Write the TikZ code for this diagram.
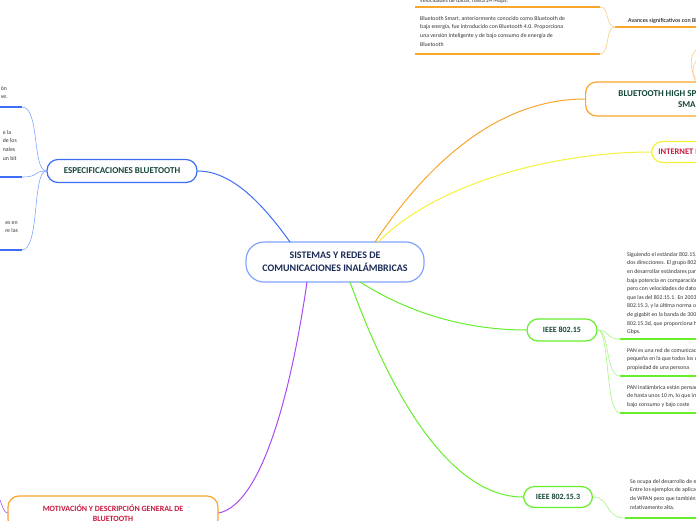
\documentclass[tikz,border=0pt]{standalone}
\usepackage{fontspec}
\setmainfont{Carlito}
\definecolor{cblue}{HTML}{3D6CF5}
\definecolor{cblueL}{HTML}{7FA4FF}
\definecolor{corange}{HTML}{F9A52A}
\definecolor{coraL}{HTML}{FBCB80}
\definecolor{cyel}{HTML}{F3F23A}
\definecolor{cgreen}{HTML}{66EE2A}
\definecolor{cgreenL}{HTML}{A6F37F}
\definecolor{cpurp}{HTML}{A94BF5}
\definecolor{tgreen}{HTML}{14463A}
\definecolor{tred}{HTML}{C8193F}
\definecolor{tnavy}{HTML}{1B2B55}
\begin{document}
\begin{tikzpicture}[x=1pt,y=-1pt,
  topic/.style={draw,line width=1.2pt,rounded corners=11pt,fill=white,font=\bfseries\fontsize{8}{10}\selectfont,align=center,inner sep=0pt},
  body/.style={font=\fontsize{5.8}{8.6}\selectfont,align=left,anchor=north west,inner sep=0pt,text=black!80}]
\useasboundingbox (0,0) rectangle (696,520);
% central
\node[topic,draw=cblueL,text=tnavy,minimum width=178,minimum height=40,rounded corners=18pt,font=\bfseries\fontsize{10}{13}\selectfont] (c) at (335,262) {SISTEMAS Y REDES DE\\COMUNICACIONES INALÁMBRICAS};
% blue
\node[topic,draw=cblue,text=tgreen,minimum width=150,minimum height=23,font=\bfseries\fontsize{9}{10}\selectfont] (esp) at (122,171) {ESPECIFICACIONES BLUETOOTH};
\draw[cblue,line width=1pt] (290,242) .. controls (260,200) and (230,171) .. (esp.east);
\foreach \y/\n in {107/b1,177/b2,250/b3}{\coordinate (\n) at (22,\y);
  \draw[cblue,line width=1.5pt] (\n) -- ++(-22,0);
  \draw[cblueL,line width=.6pt] (esp.west) .. controls (32,171) and (40,\y) .. (\n);}
\node[body,anchor=north east] at (8,86) {ón\\ve.};
\node[body,anchor=north east] at (17,130) {e la\\de los\\nales\\un bit};
\node[body,anchor=north east] at (18,221) {es en\\re las};
% orange
\node[topic,draw=corange,text=tgreen,minimum width=212,minimum height=34,anchor=west,font=\bfseries\fontsize{9}{11}\selectfont] (bhs) at (585,99) {BLUETOOTH HIGH SPEED Y BLUETOOTH\\SMART};
\draw[corange,line width=1pt] (375,242) .. controls (430,160) and (500,99) .. (bhs.west);
\coordinate (av) at (615,27);
\draw[corange,line width=1.5pt] (av) -- (700,27);
\node[font=\fontsize{6}{8}\selectfont,anchor=south west,inner sep=0pt] (avt) at (628,24) {Avances significativos con Bluetooth};
\draw[coraL,line width=.6pt] (700,85) .. controls (688,70) and (690,55) .. (696,50);
\draw[coraL,line width=.6pt] (698,85) .. controls (690,75) and (692,62) .. (700,58);
\coordinate (o1) at (600,7); \coordinate (o2) at (600,54);
\draw[corange,line width=1.5pt] (o1) -- (415,7);
\draw[corange,line width=1.5pt] (o2) -- (415,54);
\draw[coraL,line width=.6pt] (av) .. controls (605,27) and (610,7) .. (o1);
\draw[coraL,line width=.6pt] (av) .. controls (605,27) and (610,54) .. (o2);
\node[body] at (420,-2) {velocidades de datos, hasta 24 Mbps.};
\node[body] at (420,16) {Bluetooth Smart, anteriormente conocido como Bluetooth de\\baja energía, fue introducido con Bluetooth 4.0. Proporciona\\una versión inteligente y de bajo consumo de energía de\\Bluetooth};
% yellow
\node[topic,draw=cyel,text=tred,minimum width=100,minimum height=21,anchor=west,font=\bfseries\fontsize{8.5}{10}\selectfont] (int) at (651,152) {INTERNET DE LAS COSAS};
\draw[cyel,line width=1pt] (378,242) .. controls (440,180) and (560,152) .. (int.west);
% green
\node[topic,draw=cgreen,text=tgreen,minimum width=70,minimum height=22] (i15) at (562,330) {IEEE 802.15};
\draw[cgreen,line width=1pt] (360,282) .. controls (420,320) and (480,330) .. (i15.west);
\foreach \y/\n in {339/g1,376/g2,413/g3}{\coordinate (\n) at (620,\y);
  \draw[cgreen,line width=1.5pt] (\n) -- (700,\y);
  \draw[cgreenL,line width=.6pt] (i15.east) .. controls (610,330) and (605,\y) .. (\n);}
\node[body] at (627,252) {Siguiendo el estándar 802.15.1, el grupo de trabajo\\dos direcciones. El grupo 802.15.4 se centró\\en desarrollar estándares para dispositivos de\\baja potencia en comparación con Bluetooth,\\pero con velocidades de datos más bajas\\que las del 802.15.1. En 2003 se publicó el\\802.15.3, y la última norma ofrece velocidades\\de gigabit en la banda de 300 GHz, el\\802.15.3d, que proporciona hasta 100\\Gbps.};
\node[body] at (627,348) {PAN es una red de comunicación de área\\pequeña en la que todos los dispositivos son\\propiedad de una persona};
\node[body] at (627,385) {PAN inalámbrica están pensadas para distancias\\de hasta unos 10 m, lo que implica\\bajo consumo y bajo coste};
\node[topic,draw=cgreen,text=tgreen,minimum width=69,minimum height=21] (i153) at (558,497) {IEEE 802.15.3};
\draw[cgreen,line width=1pt] (350,282) .. controls (400,420) and (460,497) .. (i153.west);
\coordinate (g4) at (625,518);
\draw[cgreen,line width=1.5pt] (g4) -- (700,518);
\draw[cgreenL,line width=.6pt] (i153.east) .. controls (610,497) and (605,518) .. (g4);
\node[body] at (630,479) {Se ocupa del desarrollo de estándares\\Entre los ejemplos de aplicaciones\\de WPAN pero que también requieren\\relativamente alta.};
% purple
\node[topic,draw=corange,text=tred,minimum width=210,minimum height=34,font=\bfseries\fontsize{8}{10}\selectfont] (mot) at (113,513) {MOTIVACIÓN Y DESCRIPCIÓN GENERAL DE\\BLUETOOTH};
\draw[cpurp,line width=1pt] (307,282) .. controls (290,400) and (260,505) .. (mot.east);
\draw[cpurp,line width=.6pt] (mot.west) .. controls (4,513) and (2,505) .. (0,500);
\end{tikzpicture}
\end{document}
